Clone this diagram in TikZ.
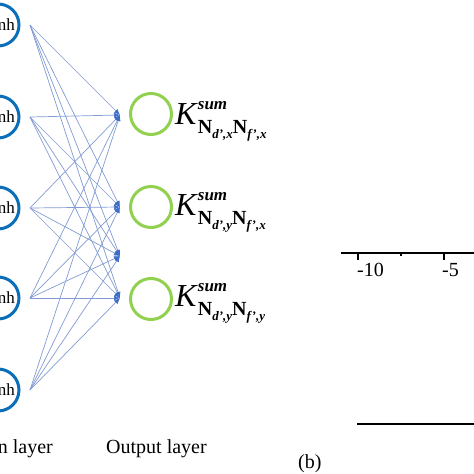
\documentclass[tikz,border=0pt]{standalone}
\usepackage{fontspec}
\setmainfont{Liberation Serif}
\usetikzlibrary{arrows.meta}
\definecolor{hidblue}{RGB}{10,110,185}
\definecolor{outgreen}{RGB}{146,208,80}
\definecolor{linkblue}{RGB}{130,155,210}
\definecolor{tipblue}{RGB}{60,110,200}
\tikzset{
  hid/.style={circle,draw=hidblue,line width=3pt,minimum size=42pt,inner sep=0pt},
  outc/.style={circle,draw=outgreen,line width=3pt,minimum size=41pt,inner sep=0pt},
  conn/.style={draw=linkblue,line width=0.7pt,-{Latex[length=6pt,width=5pt,fill=tipblue,color=tipblue]}},
  lbl/.style={font=\fontsize{20}{22}\selectfont,inner sep=0pt},
  axl/.style={font=\fontsize{20}{21}\selectfont,inner sep=0pt}
}
\newcommand{\klabel}[2]{\fontsize{32}{32}\selectfont\textit{K}\makebox[0pt][l]{\raisebox{15pt}{\fontsize{17}{17}\selectfont\bfseries\itshape sum}}\raisebox{-9pt}{\fontsize{20}{20}\selectfont\bfseries N\raisebox{-5pt}{\fontsize{13}{13}\selectfont\itshape #1}N\raisebox{-5pt}{\fontsize{13}{13}\selectfont\itshape #2}}}
\begin{document}
\begin{tikzpicture}[x=1pt,y=-1pt]
\useasboundingbox (0,0) rectangle (474,474);
% hidden layer
\foreach \i/\y in {1/25,2/117,3/208,4/298,5/390}{
  \node[hid] (h\i) at (-2,\y) {};
  \node[anchor=east,inner sep=0pt,font=\fontsize{17}{17}\selectfont] (ht\i) at (15,\y) {tanh};
  \coordinate (s\i) at (30,\y);
}
% targets
\coordinate (t1) at (120,115);
\coordinate (t2) at (120,207);
\coordinate (t3) at (120,256);
\coordinate (t4) at (120,298);
\foreach \i in {1,...,5}{
  \foreach \j in {1,...,4}{
    \draw[conn] (s\i) -- (t\j);
  }
}
% output layer
\node[outc] (o1) at (151,114) {};
\node[outc] (o2) at (151,207) {};
\node[outc] (o3) at (151,299) {};
\node[anchor=base west,inner sep=0pt] (k1) at (175,124) {\klabel{d',x}{f',x}};
\node[anchor=base west,inner sep=0pt] (k2) at (175,215) {\klabel{d',y}{f',x}};
\node[anchor=base west,inner sep=0pt] (k3) at (175,306) {\klabel{d',y}{f',y}};
% layer labels
\node[lbl,anchor=base east] (hl) at (53,453) {Hidden layer};
\node[lbl,anchor=base west] (ol) at (106,453) {Output layer};
% panel (b)
\coordinate (a0) at (341,253);
\coordinate (a1) at (474,253);
\draw[line width=1.3pt] (a0) -- (a1);
\draw[line width=1.3pt] (358,253) -- (358,260);
\draw[line width=1.3pt] (401,253) -- (401,256);
\draw[line width=1.3pt] (444,253) -- (444,260);
\node[axl,anchor=base west] (m10) at (357,276) {-10};
\node[axl,anchor=base west] (m5) at (442,276) {-5};
\coordinate (b0) at (357,424);
\coordinate (b1) at (474,424);
\draw[line width=1.3pt] (b0) -- (b1);
\node[axl,anchor=base west] (lb) at (298,468) {(b)};
\end{tikzpicture}
\end{document}
